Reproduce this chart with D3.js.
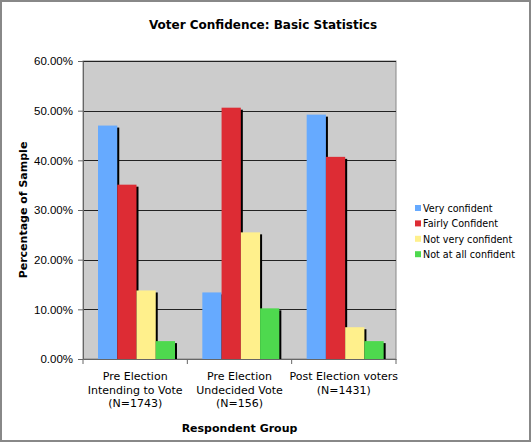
<!DOCTYPE html>
<html>
<head>
<meta charset="utf-8">
<script src="https://cdn.jsdelivr.net/npm/d3@7"></script>
<style>
  body { margin: 0; background: #fff; }
  svg { display: block; font-family: "DejaVu Sans", Verdana, sans-serif; }
</style>
</head>
<body>
<svg id="chart" width="531" height="442"></svg>
<script>
// data
var groups = ["Pre Election|Intending to Vote|(N=1743)", "Pre Election|Undecided Vote|(N=156)", "Post Election voters|(N=1431)"];
var series = ["Very confident", "Fairly Confident", "Not very confident", "Not at all confident"];
var veryConfident = [47.0, 13.4, 49.2];
var fairlyConfident = [35.1, 50.6, 40.7];
var notVeryConfident = [13.8, 25.5, 6.4];
var notAtAllConfident = [3.6, 10.2, 3.6];
var yTicks = [0, 10, 20, 30, 40, 50, 60];
var colors = ["#66aaff", "#dd2c34", "#fff08c", "#4ed94e"];

var values = [veryConfident, fairlyConfident, notVeryConfident, notAtAllConfident];

var svg = d3.select("#chart");
var margin = {top: 61, left: 83, right: 135, bottom: 83};
var width = 531 - margin.left - margin.right;
var height = 442 - margin.top - margin.bottom;

// outer frame
svg.append("rect")
  .attr("x", 1).attr("y", 1)
  .attr("width", 529).attr("height", 440)
  .attr("fill", "#fff")
  .attr("stroke", "#888").attr("stroke-width", 2);

svg.append("text")
  .attr("x", 263).attr("y", 29)
  .attr("text-anchor", "middle")
  .style("font-weight", "bold").style("font-size", "12px")
  .text("Voter Confidence: Basic Statistics");

var g = svg.append("g")
  .attr("transform", "translate(" + margin.left + "," + margin.top + ")");

var x0 = d3.scaleBand().domain(groups).range([0, width]);
var x1 = d3.scaleBand().domain(series).range([15, 92]);
var y = d3.scaleLinear().domain([0, 60]).range([height, 0]);

// plot background
g.append("rect")
  .attr("width", width).attr("height", height)
  .attr("fill", "#cccccc")
  .attr("stroke", "#888").attr("stroke-width", 1);

// gridlines
g.selectAll(".grid")
  .data(yTicks.slice(1))
  .enter().append("line")
  .attr("x1", 0).attr("x2", width)
  .attr("y1", function(d) { return Math.round(y(d)) + 0.5; })
  .attr("y2", function(d) { return Math.round(y(d)) + 0.5; })
  .attr("stroke", "#222").attr("stroke-width", 1);

// bars (shadow first)
var rows = [];
groups.forEach(function(grp, i) {
  series.forEach(function(s, j) {
    rows.push({group: grp, series: s, value: values[j][i], color: colors[j]});
  });
});

g.selectAll(".shadow")
  .data(rows)
  .enter().append("rect")
  .attr("x", function(d) { return x0(d.group) + x1(d.series) + 2; })
  .attr("y", function(d) { return y(d.value) + 2; })
  .attr("width", x1.bandwidth())
  .attr("height", function(d) { return height - y(d.value) - 2; })
  .attr("fill", "#000");

g.selectAll(".bar")
  .data(rows)
  .enter().append("rect")
  .attr("x", function(d) { return x0(d.group) + x1(d.series); })
  .attr("y", function(d) { return y(d.value); })
  .attr("width", x1.bandwidth())
  .attr("height", function(d) { return height - y(d.value); })
  .attr("fill", function(d) { return d.color; });

// y axis
var yAxis = g.append("g")
  .call(d3.axisLeft(y).tickValues(yTicks).tickSize(5).tickSizeOuter(0)
    .tickFormat(function(d) { return d.toFixed(2) + "%"; }));
yAxis.select(".domain").attr("stroke", "#666");
yAxis.selectAll(".tick line").attr("stroke", "#666");
yAxis.selectAll("text").style("font-size", "11.5px").attr("fill", "#000").attr("x", -10);

// x axis
var xAxis = g.append("g")
  .attr("transform", "translate(0," + height + ")")
  .call(d3.axisBottom(x0).tickSize(0).tickSizeOuter(0).tickFormat(""));
xAxis.select(".domain").attr("stroke", "#666");
g.selectAll(".xtick")
  .data(groups.concat(["end"]))
  .enter().append("line")
  .attr("x1", function(d, i) { return i < groups.length ? x0(d) : width; })
  .attr("x2", function(d, i) { return i < groups.length ? x0(d) : width; })
  .attr("y1", height).attr("y2", height + 5)
  .attr("stroke", "#666");

g.selectAll(".xlabel")
  .data(groups)
  .enter().append("text")
  .attr("text-anchor", "middle")
  .style("font-size", "11px")
  .attr("transform", function(d) { return "translate(" + (x0(d) + x0.bandwidth() / 2) + "," + (height + 21) + ")"; })
  .each(function(d) {
    var t = d3.select(this);
    d.split("|").forEach(function(line, k) {
      t.append("tspan").attr("x", 0).attr("y", k * 13.5).text(line);
    });
  });

svg.append("text")
  .attr("x", margin.left + width / 2).attr("y", 432)
  .attr("text-anchor", "middle")
  .style("font-weight", "bold").style("font-size", "11px")
  .text("Respondent Group");

svg.append("text")
  .attr("transform", "translate(27," + (margin.top + height / 2) + ") rotate(-90)")
  .attr("text-anchor", "middle")
  .style("font-weight", "bold").style("font-size", "11px")
  .text("Percentage of Sample");

// legend
var legend = svg.append("g").attr("transform", "translate(415,208)");
var item = legend.selectAll("g")
  .data(series)
  .enter().append("g")
  .attr("transform", function(d, i) { return "translate(0," + i * 15.4 + ")"; });
item.append("rect")
  .attr("x", 0).attr("y", -3)
  .attr("width", 6).attr("height", 6)
  .attr("fill", function(d, i) { return colors[i]; });
item.append("text")
  .attr("x", 8).attr("y", 4)
  .style("font-size", "9.6px")
  .text(function(d) { return d; });
</script>
</body>
</html>
